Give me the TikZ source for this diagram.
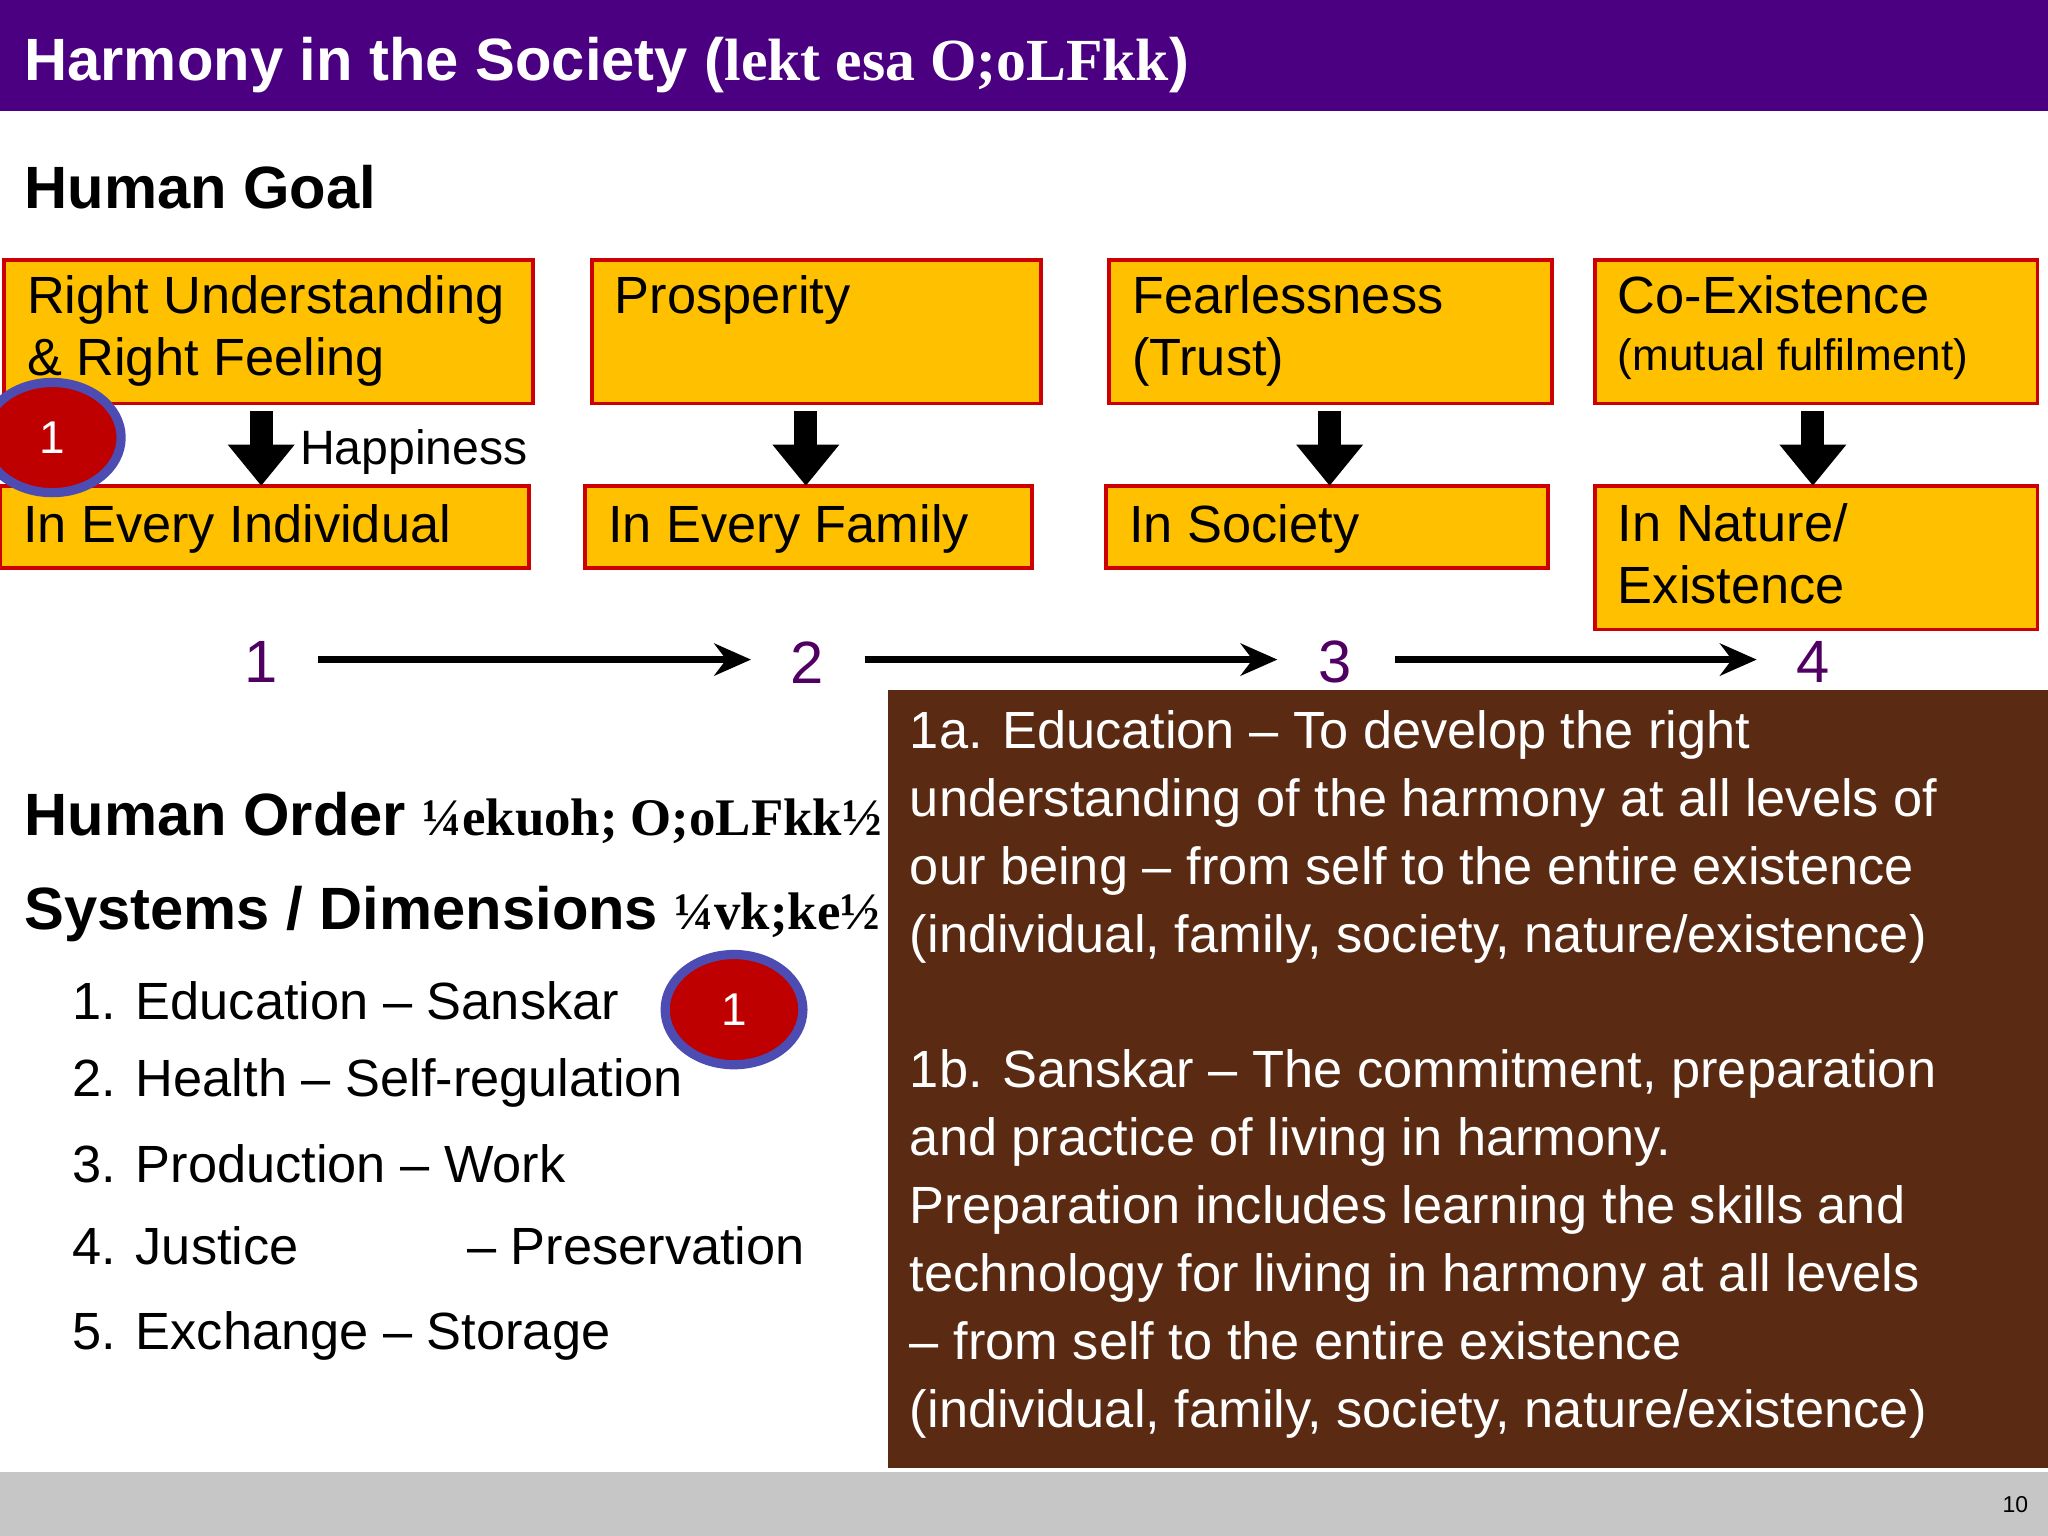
\documentclass[tikz,border=0pt]{standalone}
\usepackage{fontspec}
\setmainfont{Liberation Sans}
\newfontfamily\serifjunk{Liberation Serif}
\begin{document}
\begin{tikzpicture}[x=0.01cm,y=-0.01cm,
  goal/.style={draw=red!80!black,fill=gold,line width=0.8pt,anchor=north west,inner sep=0pt},
  btxt/.style={anchor=west,font=\fontsize{11.4}{13.5}\selectfont,align=left,inner sep=0pt},
  dn/.style={-{Triangle[length=9pt,width=14pt]},line width=5pt},
  rt/.style={-{Stealth[length=8pt,width=7pt]},line width=1.6pt},
  num/.style={font=\fontsize{13}{15}\selectfont,text=purple!60!blue!70!black,inner sep=0pt},
  badge/.style={ellipse,fill=red!75!black,draw=gray!60!blue,line width=2pt,minimum width=75pt*0.4,minimum height=60pt*0.4,text=white,font=\fontsize{10}{12}\selectfont},
  item/.style={anchor=west,font=\fontsize{11.4}{13}\selectfont,inner sep=0pt}]
\usetikzlibrary{arrows.meta,shapes.geometric}
\definecolor{gold}{HTML}{FFC000}
\definecolor{ttl}{HTML}{4B0082}
\definecolor{brn}{HTML}{5A2A12}
\useasboundingbox (0,0) rectangle (1568,1176);
\fill[ttl] (0,0) rectangle (1568,85);
\node[anchor=west,text=white,font=\fontsize{13}{15}\selectfont\bfseries,inner sep=0pt] (title) at (18,50) {Harmony in the Society ({\serifjunk lekt esa O;oLFkk})};
\node[anchor=west,font=\fontsize{13}{15}\selectfont\bfseries,inner sep=0pt] (hg) at (18,143) {Human Goal};
% top boxes
\draw[goal] (3,199) rectangle (408,309);
\draw[goal] (453,199) rectangle (797,309);
\draw[goal] (849,199) rectangle (1188,309);
\draw[goal] (1221,199) rectangle (1560,309);
\node[btxt,anchor=north west] (t1) at (20,210) {Right Understanding\\\& Right Feeling};
\node[btxt,anchor=north west] (t2) at (470,210) {Prosperity};
\node[btxt,anchor=north west] (t3) at (866,210) {Fearlessness\\(Trust)};
\node[btxt,anchor=north west] (t4) at (1238,210) {Co-Existence\\[-1pt]{\fontsize{9.6}{11}\selectfont(mutual fulfilment)}};
% bottom boxes
\draw[goal] (0,372) rectangle (405,435);
\draw[goal] (448,372) rectangle (790,435);
\draw[goal] (847,372) rectangle (1185,435);
\draw[goal] (1221,372) rectangle (1560,482);
\node[btxt] (b1) at (17,405) {In Every Individual};
\node[btxt] (b2) at (465,405) {In Every Family};
\node[btxt] (b3) at (864,405) {In Society};
\node[btxt,anchor=north west] (b4) at (1238,385) {In Nature/\\Existence};
% down arrows
\coordinate (d1a) at (200,315); \coordinate (d1b) at (200,372);
\coordinate (d2a) at (617,315); \coordinate (d2b) at (617,372);
\coordinate (d3a) at (1018,315); \coordinate (d3b) at (1018,372);
\coordinate (d4a) at (1388,315); \coordinate (d4b) at (1388,372);
\draw[dn] (d1a) -- (d1b); \draw[dn] (d2a) -- (d2b);
\draw[dn] (d3a) -- (d3b); \draw[dn] (d4a) -- (d4b);
\node[btxt,font=\fontsize{10.5}{12}\selectfont] (hap) at (229,346) {Happiness};
\node[badge] (bd1) at (40,335) {1};
% numbers
\node[num] (n1) at (200,507) {1};
\node[num] (n2) at (618,507) {2};
\node[num] (n3) at (1022,507) {3};
\node[num] (n4) at (1388,507) {4};
\draw[rt] (n1.east) ++(30,-2) coordinate (a1) -- (575,505) coordinate (a1e);
\draw[rt] (662,505) -- (978,505);
\draw[rt] (1068,505) -- (1345,505);
% left text
\node[anchor=west,font=\fontsize{13}{15}\selectfont,inner sep=0pt] (ho) at (18,626) {\bfseries Human Order {\serifjunk\fontsize{11.5}{13}\selectfont ¼ekuoh; O;oLFkk½}};
\node[anchor=west,font=\fontsize{13}{15}\selectfont,inner sep=0pt] (sd) at (18,700) {\bfseries Systems / Dimensions {\serifjunk\fontsize{11.5}{13}\selectfont ¼vk;ke½}};
\node[item] (i1) at (55,766) {1. Education -- Sanskar};
\node[item] (i2) at (55,829) {2. Health -- Self-regulation};
\node[item] (i3) at (55,891) {3. Production -- Work};
\node[item] (i4) at (55,954) {4. Justice};
\node[item] (i4b) at (357,954) {-- Preservation};
\node[item] (i5) at (55,1023) {5. Exchange -- Storage};
\node[badge] (bd2) at (562,773) {1};
% brown box
\fill[brn] (680,528) rectangle (1568,1124);
\node[anchor=north west,text=white,font=\fontsize{11.4}{14.8}\selectfont,align=left,inner sep=0pt] (exp) at (696,543) {1a. Education -- To develop the right\\understanding of the harmony at all levels of\\our being -- from self to the entire existence\\(individual, family, society, nature/existence)\\[14.8pt]1b. Sanskar -- The commitment, preparation\\and practice of living in harmony.\\Preparation includes learning the skills and\\technology for living in harmony at all levels\\-- from self to the entire existence\\(individual, family, society, nature/existence)};
% footer
\fill[gray!45] (0,1127) rectangle (1568,1176);
\node[font=\fontsize{5}{6}\selectfont,inner sep=0pt] (pg) at (1543,1152) {10};
\end{tikzpicture}
\end{document}
